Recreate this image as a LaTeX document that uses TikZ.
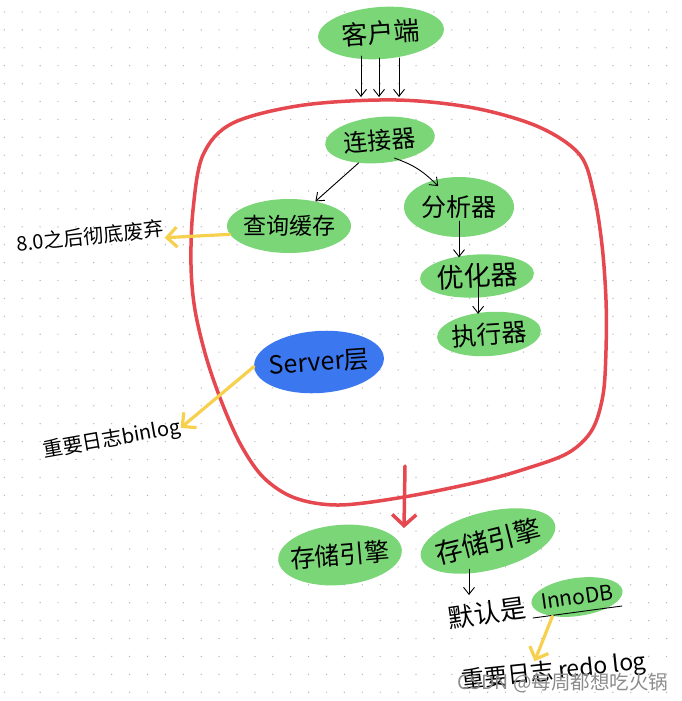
\documentclass[tikz,border=0pt]{standalone}
\usepackage{fontspec}
\setmainfont{Noto Sans CJK SC}
\usetikzlibrary{arrows.meta,shapes.geometric}
\definecolor{blobgreen}{HTML}{7AD677}
\definecolor{blobblue}{HTML}{3B78F0}
\definecolor{penred}{HTML}{E5484F}
\definecolor{penyellow}{HTML}{F7D04E}
\tikzset{
	blob/.style={ellipse,fill=blobgreen,inner sep=-14pt},
	note/.style={inner sep=0pt,text=black},
	pen/.style={-{Straight Barb[length=7pt,width=11pt]},line width=.9pt,black},
	marker/.style={-{Straight Barb[length=10pt,width=20pt]},line width=3.2pt,penyellow,line cap=round},
}
\begin{document}
\begin{tikzpicture}[x=1pt,y=-1pt,line join=round,line cap=round]
		\path[use as bounding box,fill=white] (0,0) rectangle (682,701);
		%Lưới chấm
		\foreach \i in {0,...,37}{
		\foreach \j in {0,...,38}{
		\fill[black!30] (4.3+17.9*\i,12+17.9*\j) circle (.7pt);}}
		%Các khối
		\node[blob,minimum width=126pt,minimum height=52pt,rotate=4,font=\fontsize{26}{26}\selectfont] (client) at (381,33) {客户端};
		\node[blob,minimum width=110pt,minimum height=46pt,rotate=5,font=\fontsize{24}{24}\selectfont] (conn) at (380,140) {连接器};
		\node[blob,minimum width=124pt,minimum height=54pt,font=\fontsize{23}{23}\selectfont] (cache) at (289,226) {查询缓存};
		\node[blob,minimum width=110pt,minimum height=60pt,font=\fontsize{25}{25}\selectfont] (parser) at (459,207) {分析器};
		\node[blob,minimum width=114pt,minimum height=43pt,rotate=3,font=\fontsize{27}{27}\selectfont] (optim) at (477,276) {优化器};
		\node[blob,minimum width=104pt,minimum height=44pt,rotate=4,font=\fontsize{25}{25}\selectfont] (exec) at (489,334) {执行器};
		\node[blob,fill=blobblue,minimum width=130pt,minimum height=62pt,rotate=4,font=\fontsize{25}{25}\selectfont] (server) at (319,362) {Server层};
		\node[blob,minimum width=124pt,minimum height=60pt,rotate=5,font=\fontsize{25}{25}\selectfont] (engA) at (340,555) {存储引擎};
		\node[blob,minimum width=138pt,minimum height=58pt,rotate=14,font=\fontsize{27}{27}\selectfont] (engB) at (488,541) {存储引擎};
		\node[blob,minimum width=92pt,minimum height=38pt,rotate=8,font=\fontsize{21}{21}\selectfont] (inno) at (577,597) {InnoDB};
		%Chữ ghi chú
		\node[note,rotate=6,font=\fontsize{20}{20}\selectfont] (dropped) at (90,236) {8.0之后彻底废弃};
		\node[note,rotate=10,font=\fontsize{20}{20}\selectfont] (binlog) at (112,440) {重要日志binlog};
		\node[note,rotate=8,font=\fontsize{26}{26}\selectfont] (dflt) at (487,613) {默认是};
		\node[note,rotate=6,font=\fontsize{23}{23}\selectfont] (redo) at (554,672) {重要日志 redo log};
		\node[note,text=black!45,font=\fontsize{19.5}{20}\selectfont] (mark) at (563,683) {CSDN @每周都想吃火锅};
		%Đường viền đỏ
		\draw[penred,line width=3.5pt] plot[smooth cycle,tension=.55] coordinates {(396,100) (474,108) (539,127) (580,155) (594,195) (602,245) (606,300) (606,350) (603,395) (592,430) (568,453) (525,469) (478,482) (404,497) (339,505) (295,498) (264,478) (242,447) (224,408) (207,360) (195,310) (191,265) (193,210) (203,155) (233,123) (304,105)};
		\path (361,97) coordinate (topA) (379,97) coordinate (topB) (399,97) coordinate (topC)
		(405,466) coordinate (redA) (404,528) coordinate (redB)
		(469,595) coordinate (tipD)
		(533,618) coordinate (lineA) (622,606) coordinate (lineB);
		%Mũi tên
		\foreach \t/\s in {topA/-3,topB/-1,topC/-1}{
		\draw[pen,shorten <=\s pt] (\t |- client.south) -- (\t);}
		\draw[pen] (conn.222) -- (cache.43);
		\draw[pen,shorten <=-6pt,shorten >=-8pt] (conn.-50) to[bend left=12] (parser.135);
		\draw[pen,shorten <=-16pt,shorten >=-3pt] (parser.south) -- (parser.south |- optim.north);
		\draw[pen,shorten <=-14pt,shorten >=-2pt] (optim.south) -- (optim.south |- exec.north);
		\draw[pen] (tipD |- engB.south) -- (tipD);
		\draw[line width=.9pt] (lineA) -- (lineB);
		\draw[penred,line width=3.5pt,-{Straight Barb[length=11pt,width=24pt]}] (redA) -- (redB);
		\draw[marker] (cache.188) -- (dropped.south east);
		\draw[marker] (server.west) -- (binlog.east);
		\draw[marker] (inno.-150) -- (redo.145);
		\end{tikzpicture}
\end{document}
